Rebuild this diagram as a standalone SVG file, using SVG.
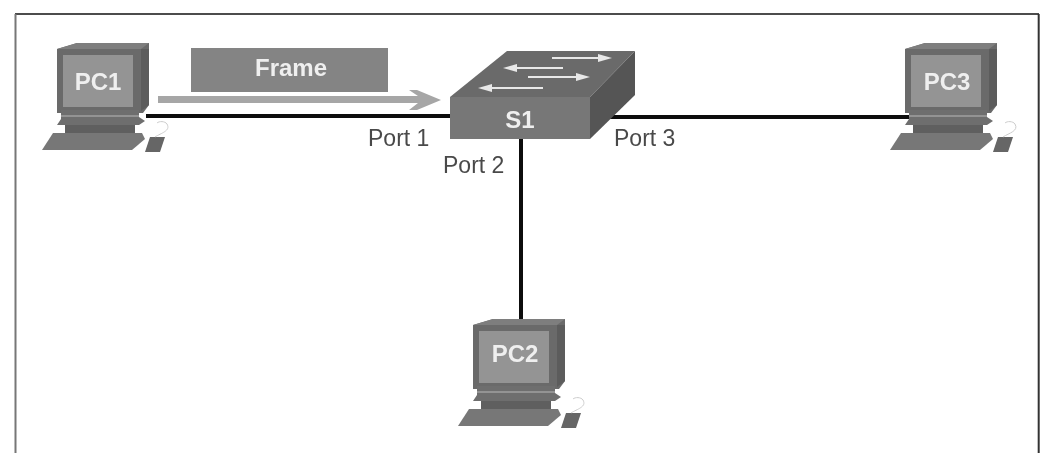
<svg xmlns="http://www.w3.org/2000/svg" xmlns:xlink="http://www.w3.org/1999/xlink" width="1045" height="462" viewBox="0 0 1045 462">
<style>
.link{stroke:#0a0a0a;stroke-width:4;fill:none}
.lb{font-family:"Liberation Sans",Arial,sans-serif;font-size:23px;fill:#4a4a4a}
.wt{font-family:"Liberation Sans",Arial,sans-serif;font-weight:bold;font-size:24px;fill:#efefef;text-anchor:middle}
</style>
<defs>
<filter id="soft" x="-5%" y="-5%" width="110%" height="110%"><feGaussianBlur stdDeviation="0.6"/></filter>
<g id="pc">
<path d="M0 6L20 0H92V62L86 70H0Z" fill="#6a6a6a"/>
<path d="M0 6L20 0H92L84 6Z" fill="#7e7e7e"/>
<path d="M84 6H92V62L84 68Z" fill="#5c5c5c"/>
<rect x="6" y="12" width="70" height="52" fill="#949494"/>
<path d="M4 67H82V74L88 78L82 82H0L4 76Z" fill="#6e6e6e"/>
<rect x="4" y="72" width="78" height="2" fill="#939393"/>
<rect x="8" y="82" width="70" height="8" fill="#5e5e5e"/>
<path d="M-4 90H85L88 96L75 107H-15Z" fill="#777"/>
<path d="M93 94H108L103 109H88Z" fill="#666"/>
<path d="M98 94C104 90 114 88 110 81C108 78 102 78 100 80" fill="none" stroke="#ccc" stroke-width="1"/>
</g>
</defs>
<rect width="1045" height="462" fill="#fff"/>
<g filter="url(#soft)">
<g id="frame-border" fill="none">
<path d="M15 14H1039" stroke="#111" stroke-width="1.5"/>
<path d="M15.5 14V453" stroke="#777" stroke-width="2"/>
<path d="M1038.7 14V453" stroke="#333" stroke-width="2"/>
</g>
<g id="connectors">
<line class="link" x1="146" y1="116" x2="452" y2="116"/>
<line class="link" x1="610" y1="117" x2="912" y2="117"/>
<line class="link" x1="521" y1="138" x2="521" y2="322"/>
</g>
<g id="frame">
<rect x="191" y="48" width="197" height="44" fill="#848484"/>
<text class="wt" x="291" y="76">Frame</text>
</g>
<g id="frame-arrow" fill="#a6a6a6">
<path d="M158 96H418L409 90H417L441 100L417 110H409L418 103H158Z"/>
</g>
<g id="pc1"><use xlink:href="#pc" href="#pc" x="57" y="43"/><text class="wt" x="98" y="90">PC1</text></g>
<g id="pc3"><use xlink:href="#pc" href="#pc" x="905" y="43"/><text class="wt" x="947" y="90">PC3</text></g>
<g id="pc2"><use xlink:href="#pc" href="#pc" x="473" y="319"/><text class="wt" x="515" y="362">PC2</text></g>
<g id="s1">
<path d="M450 97L507 51H635L590 97Z" fill="#6a6a6a"/>
<rect x="450" y="97" width="140" height="42" fill="#777"/>
<path d="M590 97L635 51V95L590 139Z" fill="#555"/>
<g fill="#e8e8e8">
<path d="M552 57H598V54L612 58L598 62V59H552Z"/>
<path d="M563 67H517V64L503 68L517 72V69H563Z"/>
<path d="M528 76H576V73L590 77L576 81V78H528Z"/>
<path d="M543 87H492V84L478 88L492 92V89H543Z"/>
</g>
<text class="wt" x="520" y="128">S1</text>
</g>
<g id="labels">
<text class="lb" x="368" y="146">Port 1</text>
<text class="lb" x="443" y="173">Port 2</text>
<text class="lb" x="614" y="146">Port 3</text>
</g>
</g>
</svg>
